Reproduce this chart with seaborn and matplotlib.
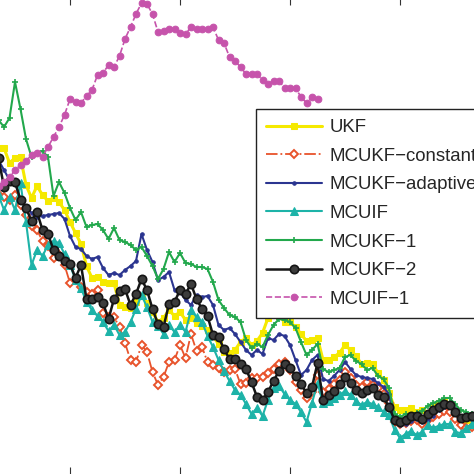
import numpy as np
import pandas as pd
import seaborn as sns
import matplotlib.pyplot as plt

# sample index (x) and the error of each filter
steps = list(range(7, 94))

ukf = [3.52, 3.52, 3.37, 3.42, 3.43, 3.15, 3.02, 3.14, 3.05, 2.99,
       3.02, 2.98, 2.90, 2.78, 2.67, 2.56, 2.34, 2.22, 2.23, 2.18,
       2.17, 2.17, 1.95, 1.93, 1.92, 1.98, 2.04, 1.97, 1.88, 1.78,
       1.82, 1.90, 1.84, 1.88, 1.80, 1.82, 1.77, 1.74, 1.70, 1.64,
       1.56, 1.48, 1.47, 1.50, 1.58, 1.62, 1.55, 1.59, 1.67, 1.82,
       1.86, 1.84, 1.78, 1.78, 1.73, 1.66, 1.59, 1.60, 1.62, 1.40,
       1.40, 1.43, 1.47, 1.55, 1.50, 1.44, 1.36, 1.37, 1.36, 1.27,
       1.20, 1.07, 0.93, 0.90, 0.90, 0.92, 0.88, 0.90, 0.87, 0.93,
       0.97, 0.98, 0.95, 0.87, 0.82, 0.80, 0.80]

mcukf_constant = [3.05, 3.03, 3.00, 3.05, 2.95, 2.85, 2.74, 2.70, 2.59, 2.54,
                  2.42, 2.45, 2.35, 2.17, 2.20, 2.13, 2.08, 2.06, 2.10, 1.87,
                  1.83, 1.83, 1.73, 1.57, 1.40, 1.38, 1.55, 1.48, 1.28, 1.15,
                  1.23, 1.38, 1.40, 1.55, 1.42, 1.66, 1.49, 1.53, 1.38, 1.35,
                  1.32, 1.28, 1.30, 1.31, 1.16, 1.17, 1.22, 1.22, 1.23, 1.27,
                  1.31, 1.36, 1.38, 1.30, 1.18, 1.10, 1.02, 1.08, 1.25, 1.08,
                  1.11, 1.16, 1.20, 1.28, 1.22, 1.15, 1.13, 1.18, 1.15, 1.12,
                  1.06, 0.97, 0.78, 0.76, 0.77, 0.79, 0.80, 0.76, 0.80, 0.83,
                  0.86, 0.89, 0.88, 0.81, 0.75, 0.72, 0.73]

mcukf_adaptive = [3.40, 3.30, 3.20, 3.18, 3.00, 2.94, 2.87, 2.83, 2.84, 2.85,
                  2.86, 2.87, 2.81, 2.64, 2.53, 2.51, 2.44, 2.41, 2.43, 2.32,
                  2.25, 2.27, 2.25, 2.30, 2.34, 2.39, 2.66, 2.50, 2.38, 2.20,
                  2.23, 2.28, 2.10, 2.08, 2.00, 1.95, 2.05, 2.03, 2.04, 1.95,
                  1.75, 1.70, 1.72, 1.66, 1.58, 1.50, 1.45, 1.50, 1.46, 1.62,
                  1.60, 1.66, 1.64, 1.55, 1.40, 1.25, 1.30, 1.40, 1.45, 1.21,
                  1.19, 1.24, 1.30, 1.38, 1.31, 1.25, 1.23, 1.22, 1.21, 1.17,
                  1.13, 1.06, 0.78, 0.75, 0.76, 0.79, 0.81, 0.78, 0.80, 0.84,
                  0.90, 0.93, 0.96, 0.91, 0.83, 0.81, 0.80]

mcuif = [3.05, 2.90, 3.03, 2.90, 3.17, 2.78, 2.35, 2.50, 2.44, 2.55,
         2.59, 2.57, 2.46, 2.35, 2.20, 2.12, 1.98, 1.90, 1.84, 1.78,
         1.69, 1.75, 1.65, 1.68, 1.78, 1.91, 2.05, 1.93, 1.78, 1.74,
         1.66, 1.75, 1.68, 1.75, 1.68, 1.90, 1.83, 1.78, 1.64, 1.53,
         1.40, 1.29, 1.19, 1.10, 1.05, 0.96, 0.86, 0.92, 0.84, 1.00,
         1.12, 1.14, 1.06, 1.00, 0.96, 0.88, 0.78, 0.97, 1.17, 0.97,
         0.99, 1.02, 1.05, 1.09, 1.05, 0.99, 0.95, 0.98, 0.96, 0.93,
         0.88, 0.85, 0.70, 0.62, 0.66, 0.69, 0.65, 0.68, 0.75, 0.72,
         0.74, 0.76, 0.76, 0.68, 0.67, 0.72, 0.76]

mcukf_1 = [3.80, 3.73, 3.82, 4.18, 3.91, 3.61, 3.43, 3.47, 3.49, 3.43,
           3.04, 3.18, 3.07, 2.92, 2.80, 2.88, 2.73, 2.75, 2.76, 2.70,
           2.61, 2.72, 2.60, 2.58, 2.55, 2.50, 2.53, 2.44, 2.34, 2.21,
           2.31, 2.48, 2.38, 2.47, 2.37, 2.36, 2.33, 2.33, 2.31, 2.18,
           2.00, 1.92, 1.85, 1.83, 1.78, 1.60, 1.52, 1.56, 1.53, 1.65,
           1.75, 1.81, 1.80, 1.78, 1.72, 1.58, 1.45, 1.50, 1.56, 1.31,
           1.28, 1.30, 1.32, 1.43, 1.45, 1.39, 1.36, 1.30, 1.32, 1.24,
           1.21, 1.12, 0.86, 0.83, 0.86, 0.84, 0.87, 0.89, 0.94, 0.97,
           0.99, 1.02, 1.02, 0.96, 0.90, 0.88, 0.86]

mcukf_2 = [3.42, 3.13, 3.19, 3.18, 3.00, 2.92, 2.79, 2.88, 2.70, 2.66,
           2.50, 2.44, 2.39, 2.36, 2.22, 2.35, 2.01, 2.01, 2.03, 1.97,
           1.81, 2.01, 2.09, 2.11, 1.95, 2.06, 2.21, 2.10, 1.91, 1.76,
           1.73, 1.96, 1.98, 2.10, 2.06, 2.16, 2.01, 1.91, 1.84, 1.65,
           1.63, 1.51, 1.41, 1.41, 1.36, 1.31, 1.18, 1.03, 1.00, 1.08,
           1.19, 1.29, 1.36, 1.32, 1.24, 1.16, 1.07, 1.13, 1.37, 1.00,
           1.05, 1.09, 1.16, 1.23, 1.17, 1.10, 1.07, 1.10, 1.12, 1.05,
           1.03, 0.93, 0.80, 0.78, 0.80, 0.84, 0.84, 0.81, 0.86, 0.90,
           0.93, 0.96, 0.95, 0.88, 0.82, 0.83, 0.84]

# MCUIF-1 is only shown up to step 65
mcuif_1 = [3.14, 3.18, 3.23, 3.30, 3.35, 3.39, 3.45, 3.47, 3.43, 3.53,
           3.63, 3.73, 3.85, 4.01, 3.98, 3.97, 4.04, 4.10, 4.25, 4.27,
           4.35, 4.33, 4.44, 4.61, 4.73, 4.86, 4.97, 4.96, 4.86, 4.68,
           4.69, 4.71, 4.71, 4.67, 4.66, 4.73, 4.71, 4.71, 4.71, 4.73,
           4.60, 4.57, 4.43, 4.39, 4.33, 4.26, 4.26, 4.26, 4.20, 4.16,
           4.19, 4.19, 4.12, 4.12, 4.12, 4.03, 3.97, 4.03, 4.01]

series = [
    ("UKF", ukf, dict(color="#f5e900", lw=2.2, marker="s", ms=5,
                      mfc="#f5e900", mec="#f5e900")),
    ("MCUKF\u2212constant", mcukf_constant, dict(color="#e8532b", lw=1.3, linestyle="-.",
                                                 marker="D", ms=4.5, mfc="white",
                                                 mec="#e8532b", mew=1.4)),
    ("MCUKF\u2212adaptive", mcukf_adaptive, dict(color="#2b3590", lw=1.5, marker=".",
                                                 ms=5, mfc="#2b3590", mec="#2b3590")),
    ("MCUIF", mcuif, dict(color="#1db3a8", lw=1.5, marker="^", ms=6,
                          mfc="#1db3a8", mec="#1db3a8")),
    ("MCUKF\u22121", mcukf_1, dict(color="#22a84c", lw=1.5, marker="+", ms=4,
                                   mfc="#22a84c", mec="#22a84c", mew=1.2)),
    ("MCUKF\u22122", mcukf_2, dict(color="#151515", lw=1.8, marker="o", ms=6,
                                   mfc="#3c3c3c", mec="#151515", mew=1.2)),
    ("MCUIF\u22121", mcuif_1, dict(color="#c653ab", lw=1.2, linestyle="--",
                                   marker="o", ms=4.8, mfc="#c653ab", mec="#c653ab")),
]

sns.set_theme(style="white")
plt.rcParams['font.family'] = ['Liberation Sans', 'DejaVu Sans']

W = 474
fig = plt.figure(figsize=(W / 100, W / 100), dpi=100)
# the picture is a crop of a larger plot: the axes frame lies just outside it
ax = fig.add_axes([-10 / W, -3 / W, 494 / W, 482 / W])

for name, vals, style in series:
    sns.lineplot(x=steps[:len(vals)], y=vals, ax=ax, label=name,
                 estimator=None, errorbar=None, **style)

ax.set_xlim(20 - 80 / 5.5, 20 + 414 / 5.5)
ax.set_ylim(0.23, 5.05)
ax.set_xticks([20, 40, 60, 80])
ax.set_xticklabels([])
ax.set_yticks([])
ax.tick_params(axis="x", direction="in", length=7, width=0.8, color="#333333",
               top=True, bottom=True)
ax.set_xlabel("")
ax.set_ylabel("")

leg = ax.legend(loc="upper left", bbox_to_anchor=(256 / W, 1 - 109 / W),
                bbox_transform=fig.transFigure, borderaxespad=0,
                fontsize=13.4, handlelength=3.0, handletextpad=0.42,
                labelspacing=0.62, borderpad=0.55, fancybox=False,
                framealpha=1, edgecolor="#222222")
leg.get_frame().set_linewidth(1.0)

fig.savefig("out.png", dpi=100)
